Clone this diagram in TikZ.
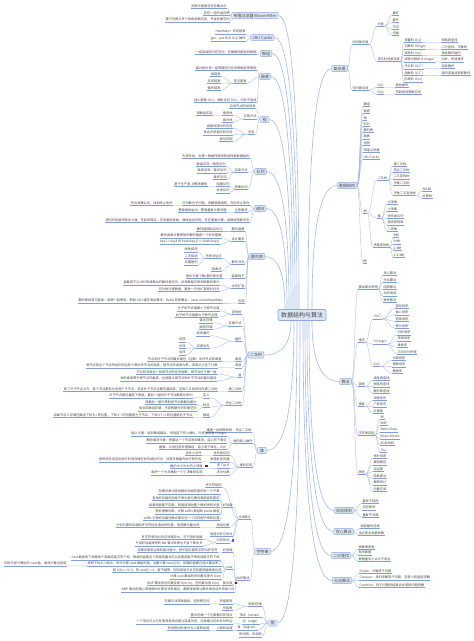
\documentclass[tikz,border=0pt]{standalone}
\usepackage{fontspec}
\setmainfont{Noto Sans CJK SC}
\usetikzlibrary{calc}
\definecolor{bxf}{HTML}{DCE6F4}
\definecolor{bxd}{HTML}{8EA9DB}
\definecolor{cnc}{HTML}{A7BCE0}
\definecolor{ulc}{HTML}{7F9ED6}
\definecolor{txc}{HTML}{474747}
\newcommand\lffont{\fontsize{3.2}{3.6}\selectfont}
\newcommand\bxfont{\fontsize{4}{4.6}\selectfont}
\newcommand\rtfont{\fontsize{6}{7}\selectfont}
\newcommand\mmconn[2]{\coordinate (cm) at ($(#1)!0.5!(#2)$);\draw[cn] (#1) .. controls (cm |- #1) and (cm |- #2) .. (#2);}
\newcommand\mmR[5]{\node[lf,anchor=west] (#2) at (#3,#4) {#5};\mmconn{#1}{#2.south west}}
\newcommand\mmL[5]{\node[lf,anchor=east] (#2) at (#3,#4) {#5};\mmconn{#1}{#2.south east}}
\newcommand\mmroot[2]{\coordinate (ck) at (#1 |- #2);\draw[rl] (#1) .. controls ($(#1)!0.667!(ck)$) and ($(#2)!0.667!(ck)$) .. (#2);}
\newcommand\mmU[3]{\coordinate (#1) at ([xshift=#2pt]root.north);\mmroot{#1}{#3}}
\newcommand\mmD[3]{\coordinate (#1) at ([xshift=#2pt]root.south);\mmroot{#1}{#3}}
\begin{document}
\begin{tikzpicture}[x=1pt,y=1pt,yscale=-1,
  lf/.style={font=\lffont, text=txc, inner xsep=0.3pt, inner ysep=0.5pt,
    append after command={(\tikzlastnode.south west) edge[draw=ulc,line width=0.35pt] (\tikzlastnode.south east)}},
  cn/.style={draw=cnc, line width=0.35pt},
  rl/.style={draw=cnc, line width=0.6pt},
  bx/.style={draw=bxd, fill=bxf, rounded corners=1pt, line width=0.4pt, font=\bxfont, text=txc, inner xsep=1.8pt, inner ysep=1.3pt, minimum width=9pt},
  rt/.style={draw=bxd, fill=bxf, rounded corners=2pt, line width=0.8pt, font=\rtfont, text=txc, inner xsep=3pt, inner ysep=2.8pt},
  icon/.style={minimum size=2.6pt, inner sep=0pt}]
\fill[white] (0,0) rectangle (474,641);
\useasboundingbox (0,0) rectangle (474,641);

% root and main boxes
\node[rt] (root) at (302,315) {数据结构与算法};
\node[bx] (b1) at (255,15.5) {布隆过滤器 BloomFilter};
\node[bx] (b2) at (262.5,37.5) {LRU Cache};
\node[bx] (b3) at (266,53.5) {数组};
\node[bx] (b4) at (265,76.5) {链表};
\node[bx] (b5) at (264.5,119.5) {栈};
\node[bx] (b6) at (260.5,171.5) {队列};
\node[bx] (b7) at (260,208.5) {递归};
\node[bx] (b8) at (257,256.5) {散列表};
\node[bx] (b9) at (256,355) {二叉树};
\node[bx] (b10) at (262,450.5) {堆};
\node[bx] (b11) at (262.5,551.5) {字符串};
\node[bx] (b12) at (272.5,623) {图};
\node[bx] (fz) at (339.5,68.5) {复杂度};
\node[bx] (sj) at (347,185.5) {数据结构};
\node[bx] (sf) at (345.5,381.5) {算法};
\node[bx] (dt) at (344,510.5) {动态规划};
\node[bx] (tx) at (343.5,531.5) {贪心算法};
\node[bx] (ef) at (341,555.5) {二分查找};
\node[bx] (fzh) at (342,580.5) {分治算法};

% root connectors
\mmU{r1}{-3}{b1.east}
\mmU{r2}{-5}{b2.east}
\mmU{r3}{-7}{b3.east}
\mmU{r4}{-9}{b4.east}
\mmU{r5}{-11}{b5.east}
\mmU{r6}{-13}{b6.east}
\mmU{r7}{-15}{b7.east}
\mmU{r8}{-17}{b8.east}
\mmD{r9}{-11}{b9.east}
\mmD{r10}{-8}{b10.east}
\mmD{r11}{-5}{b11.east}
\mmD{r12}{-2}{b12.east}
\mmU{r13}{6}{fz.west}
\mmU{r14}{10}{sj.west}
\mmD{r15}{10}{sf.west}
\mmD{r16}{7}{dt.west}
\mmD{r17}{5}{tx.west}
\mmD{r18}{3}{ef.west}
\mmD{r19}{1}{fzh.west}

% ---------- 复杂度 ----------
\mmR{fz.east}{t1}{352}{42}{时间复杂度}
\mmR{t1.south east}{t1a}{377}{24}{分类}
\mmR{t1a.south east}{t1a1}{392}{13}{最好}
\mmR{t1a.south east}{t1a2}{392}{20}{最坏}
\mmR{t1a.south east}{t1a3}{392}{27}{平均}
\mmR{t1a.south east}{t1a4}{392}{33}{均摊}
\mmR{t1.south east}{t1b}{377}{59}{常见时间复杂度}
\mmR{t1b.south east}{c1}{404}{40}{常量阶 O(1)}
\mmR{c1.south east}{e1}{441}{40}{哈希表查找}
\mmR{t1b.south east}{c2}{404}{47}{对数阶 O(logn)}
\mmR{c2.south east}{e2}{441}{47}{二分查找、平衡树}
\mmR{t1b.south east}{c3}{404}{53}{线性阶 O(n)}
\mmR{c3.south east}{e3}{441}{53}{单层循环遍历}
\mmR{t1b.south east}{c4}{404}{59.5}{线性对数阶 O(nlogn)}
\mmR{c4.south east}{e4}{441}{59.5}{归并、快速排序}
\mmR{t1b.south east}{c5}{404}{66}{平方阶 O(n\textsuperscript{2})}
\mmR{c5.south east}{e5}{441}{66}{双层循环}
\mmR{t1b.south east}{c6}{404}{73}{指数阶 O(2\textsuperscript{n})}
\mmR{c6.south east}{e6}{441}{73}{递归求斐波那契数列}
\mmR{t1b.south east}{c7}{404}{79.5}{阶乘阶 O(n!)}
\mmR{fz.east}{t2}{352}{88}{空间复杂度}
\mmR{t2.south east}{s1}{377}{85}{O(1)}
\mmR{s1.south east}{s1e}{395}{85}{原地操作}
\mmR{t2.south east}{s2}{377}{92}{O(n)}
\mmR{s2.south east}{s2e}{395}{92}{开辟线性辅助空间}

% ---------- 数据结构 ----------
\mmR{sj.east}{d1}{363}{104}{数组}
\mmR{sj.east}{d2}{363}{111}{链表}
\mmR{sj.east}{d3}{363}{118}{栈}
\mmR{sj.east}{d4}{363}{124}{队列}
\mmR{sj.east}{d5}{363}{130}{散列表}
\mmR{sj.east}{d6}{363}{136.5}{跳表}
\mmR{sj.east}{d7}{363}{143}{位图}
\mmR{sj.east}{d8}{363}{150}{布隆过滤器}
\mmR{sj.east}{d9}{363}{157}{LRU Cache}
\mmR{sj.east}{d10}{363}{211}{树}
\mmR{sj.east}{d11}{363}{261}{图}
\mmR{d10.south east}{tr1}{377}{178}{二叉树}
\mmR{tr1.south east}{tb1}{393}{164}{满二叉树}
\mmR{tr1.south east}{tb2}{393}{170}{完全二叉树}
\mmR{tr1.south east}{tb3}{393}{176.5}{二叉查找树}
\mmR{tr1.south east}{tb4}{393}{183}{平衡二叉树}
\mmR{tr1.south east}{tb5}{393}{193}{平衡二叉查找树}
\mmR{tb5.south east}{tb51}{422}{189}{AVL树}
\mmR{tb5.south east}{tb52}{422}{196}{红黑树}
\mmR{d10.south east}{tr2}{377}{216}{堆}
\mmR{tr2.south east}{th1}{387}{202}{大顶堆}
\mmR{tr2.south east}{th2}{387}{209}{小顶堆}
\mmR{tr2.south east}{th3}{387}{216}{优先级队列}
\mmR{tr2.south east}{th4}{387}{222.5}{斐波那契堆}
\mmR{tr2.south east}{th5}{387}{229}{二项堆}
\mmR{d10.south east}{tr3}{373}{245}{多路查找树}
\mmR{tr3.south east}{tm1}{393}{235}{B树}
\mmR{tr3.south east}{tm2}{393}{241.5}{B+树}
\mmR{tr3.south east}{tm3}{393}{248}{2-3树}
\mmR{tr3.south east}{tm4}{393}{255}{2-3-4树}

% ---------- 算法 ----------
\mmR{sf.east}{a1}{358}{287}{基本算法思想}
\mmR{a1.south east}{a11}{383}{273}{贪心算法}
\mmR{a1.south east}{a12}{383}{280}{分治算法}
\mmR{a1.south east}{a13}{383}{287}{回溯算法}
\mmR{a1.south east}{a14}{383}{293.5}{动态规划}
\mmR{a1.south east}{a15}{383}{300}{枚举算法}
\mmR{sf.east}{a2}{358}{340}{排序}
\mmR{a2.south east}{a21}{373}{316}{O(n\textsuperscript{2})}
\mmR{a21.south east}{a211}{395}{306}{冒泡排序}
\mmR{a21.south east}{a212}{395}{312.5}{插入排序}
\mmR{a21.south east}{a213}{395}{319}{选择排序}
\mmR{a21.south east}{a214}{395}{326}{希尔排序}
\mmR{a2.south east}{a22}{373}{342}{O(nlogn)}
\mmR{a22.south east}{a221}{397}{332.5}{归并排序}
\mmR{a22.south east}{a222}{397}{338.5}{快速排序}
\mmR{a22.south east}{a223}{397}{345}{堆排序}
\mmR{a22.south east}{a224}{397}{352}{三向切分快排}
\mmR{a2.south east}{a23}{373}{364}{O(n)}
\mmR{a23.south east}{a231}{392}{358}{计数排序}
\mmR{a23.south east}{a232}{392}{364.5}{基数排序}
\mmR{a23.south east}{a233}{392}{371}{桶排序}
\mmR{sf.east}{a3}{358}{384}{查找}
\mmR{a3.south east}{a31}{373}{378}{线性表查找}
\mmR{a3.south east}{a32}{373}{384.5}{树结构查找}
\mmR{a3.south east}{a33}{373}{391}{散列表查找}
\mmR{sf.east}{a4}{358}{404}{搜索}
\mmR{a4.south east}{a41}{373}{398}{深度优先}
\mmR{a4.south east}{a42}{373}{404.5}{广度优先}
\mmR{a4.south east}{a43}{373}{411}{A*搜索}
\mmR{sf.east}{a5}{358}{433}{字符串匹配}
\mmR{a5.south east}{a51}{380}{417}{BF}
\mmR{a5.south east}{a52}{380}{423.5}{KMP}
\mmR{a5.south east}{a53}{380}{430}{Rabin-Karp}
\mmR{a5.south east}{a54}{380}{436.5}{Boyer-Moore}
\mmR{a5.south east}{a55}{380}{443}{AC自动机}
\mmR{a5.south east}{a56}{380}{450}{Trie}
\mmR{sf.east}{a6}{358}{472}{其他}
\mmR{a6.south east}{a61}{373}{456}{拓扑排序}
\mmR{a6.south east}{a62}{373}{462.5}{最短路径}
\mmR{a6.south east}{a63}{373}{469}{位运算}
\mmR{a6.south east}{a64}{373}{476}{哈希算法}
\mmR{a6.south east}{a65}{373}{482.5}{概率统计}
\mmR{a6.south east}{a66}{373}{489}{向量空间}

% ---------- 动态规划 / 贪心 / 二分 / 分治 ----------
\mmR{dt.east}{p1}{362}{501}{最优子结构}
\mmR{dt.east}{p2}{362}{507.5}{无后效性}
\mmR{dt.east}{p3}{362}{515}{重复子问题}
\mmR{tx.east}{q1}{360}{526}{局部最优选择}
\mmR{tx.east}{q2}{358}{533}{未必是全局最优解}
\mmR{ef.east}{u1}{358}{547}{依赖顺序表}
\mmR{ef.east}{u2}{358}{552.5}{有序数据}
\mmR{ef.east}{u3}{358}{559}{数据量太小太大不适合}
\mmR{fzh.east}{v1}{359}{571}{Divide：分解成子问题}
\mmR{fzh.east}{v2}{359}{578}{Conquer：递归求解各子问题，足够小则直接求解}
\mmR{fzh.east}{v3}{359}{585}{Combine：将子问题的结果合并成原问题的解}

% ---------- 布隆过滤器 ----------
\mmL{b1.west}{l1a}{227}{6}{判断元素是否存在集合中}
\mmL{b1.west}{l1b}{230}{13}{存在一定的误判率}
\mmL{b1.west}{l1c}{230}{19.5}{基于位图与多个哈希函数实现，节省存储空间}
% LRU
\mmL{b2.west}{l2a}{246}{32}{HashMap + 双向链表}
\mmL{b2.west}{l2b}{246}{38.5}{get、put 均为 O(1) 操作}
% 数组
\mmL{b3.west}{l3a}{257}{52}{一组连续的内存空间，存储相同类型的数据}
% 链表
\mmL{b4.west}{l4a}{257}{68}{通过指针将一组零散的内存块串联起来使用}
\mmL{b4.west}{l4b}{247}{81}{常见链表}
\mmL{l4b.south west}{l4b1}{221}{74}{单链表}
\mmL{l4b.south west}{l4b2}{221}{81}{双向链表}
\mmL{l4b.south west}{l4b3}{221}{88}{循环链表}
\mmL{b4.west}{l4c}{257}{100}{插入删除 O(1)，随机访问 O(n)，内存不连续}
% 栈
\mmL{b5.west}{l5a}{256}{106}{后进先出的线性表}
\mmL{b5.west}{l5b}{257}{116.5}{实现方式}
\mmL{l5b.south west}{l5b1}{233}{113}{顺序栈}
\mmL{l5b1.south west}{l5b1a}{213}{113}{用数组实现}
\mmL{l5b.south west}{l5b2}{233}{120}{链式栈}
\mmL{b5.west}{l5c}{255}{132}{应用}
\mmL{l5c.south west}{l5c1}{233}{126}{函数调用中的应用}
\mmL{l5c.south west}{l5c2}{233}{132.5}{表达式求值中的应用}
\mmL{l5c.south west}{l5c3}{233}{139}{括号匹配}
% 队列
\mmL{b6.west}{l6a}{250}{156}{先进先出，也是一种操作受限的线性表数据结构}
\mmL{b6.west}{l6b}{248}{170}{实现方式}
\mmL{l6b.south west}{l6b1}{226}{164}{数组实现：顺序队列}
\mmL{l6b.south west}{l6b2}{227}{170.5}{链表实现：链式队列}
\mmL{l6b.south west}{l6b3}{227}{177}{循环队列}
\mmL{b6.west}{l6c}{248}{187}{特殊队列}
\mmL{l6c.south west}{l6c1}{230}{184}{阻塞队列}
\mmL{l6c1.south west}{l6c1a}{208}{184}{基于生产者-消费者模型}
\mmL{l6c.south west}{l6c2}{230}{190.5}{并发队列}
% 递归
\mmL{b7.west}{l7a}{250}{203}{可分解为子问题，求解思路相同，存在终止条件}
\mmL{l7a.south west}{l7a1}{173}{203}{写出递推公式，找到终止条件}
\mmL{b7.west}{l7b}{248}{210}{注意事项}
\mmL{l7b.south west}{l7b1}{227}{210}{警惕堆栈溢出，警惕重复计算问题}
\mmL{b7.west}{l7c}{250}{220}{递归代码虽然表达力强、写起来简洁，空间复杂度高，堆栈溢出风险，存在重复计算，函数调用耗时多}
% 散列表
\mmL{b8.west}{l8a}{245}{229}{散列函数}
\mmL{l8a.south west}{l8a1}{223}{229}{散列值随机且均匀}
\mmL{b8.west}{l8b}{245}{239}{设计要求}
\mmL{l8b.south west}{l8b1}{222}{235.5}{散列函数计算得到的散列值是一个非负整数}
\mmL{l8b.south west}{l8b2}{220}{242}{key1 = key2 时 hash(key1) == hash(key2)}
\mmL{b8.west}{l8c}{245}{262}{散列冲突}
\mmL{l8c.south west}{l8c1}{222}{256}{开放寻址法}
\mmL{l8c1.south west}{l8c11}{198}{249.5}{线性探测}
\mmL{l8c1.south west}{l8c12}{198}{256}{二次探测}
\mmL{l8c1.south west}{l8c13}{198}{262.5}{双重散列}
\mmL{l8c.south west}{l8c2}{222}{269}{链表法}
\mmL{b8.west}{l8d}{245}{276}{装载因子}
\mmL{l8d.south west}{l8d1}{223}{276}{表中元素个数/散列表长度}
\mmL{b8.west}{l8e}{245}{286}{动态扩容}
\mmL{l8e.south west}{l8e1}{220}{282.5}{装载因子过大时申请更大的散列表空间，并将数据迁移到新散列表中}
\mmL{l8e.south west}{l8e2}{220}{289}{可分批迁移数据，避免一次性扩容耗时过多}
\mmL{b8.west}{l8f}{245}{301}{应用}
\mmL{l8f.south west}{l8f1}{223}{301}{散列表经常与链表、跳表一起使用，例如 LRU 缓存淘汰算法、Redis 有序集合、Java LinkedHashMap}
% 二叉树
\mmL{b9.west}{l9a}{242}{312}{查找树}
\mmL{l9a.south west}{l9a1}{220}{308.5}{左子树节点值都小于根节点值}
\mmL{l9a.south west}{l9a2}{218}{315}{右子树节点值都大于根节点值}
\mmL{b9.west}{l9b}{242}{323.5}{存储方式}
\mmL{l9b.south west}{l9b1}{213}{320.5}{链式存储}
\mmL{l9b.south west}{l9b2}{213}{327}{顺序存储}
\mmL{b9.west}{l9c}{242}{339}{遍历}
\mmL{l9c.south west}{l9c1}{210}{333.5}{层序遍历}
\mmL{l9c.south west}{l9c2}{210}{346}{深度优先}
\mmL{l9c2.south west}{l9c21}{186}{339.5}{前序}
\mmL{l9c2.south west}{l9c22}{186}{346}{中序}
\mmL{l9c2.south west}{l9c23}{186}{352.5}{后序}
\mmL{b9.west}{l9d}{242}{359}{高度}
\mmL{l9d.south west}{l9d1}{222}{359}{节点到叶子节点的最长路径（边数）叫作节点的高度}
\mmL{b9.west}{l9e}{242}{365.5}{深度}
\mmL{l9e.south west}{l9e1}{218}{365.5}{根节点到这个节点所经历的边的个数叫作节点的深度，根节点的深度为零，深度从上往下计数}
\mmL{b9.west}{l9f}{242}{375}{层}
\mmL{l9f.south west}{l9f1}{217}{372}{节点的深度加一就是节点所在的层数，根节点位于第一层}
\mmL{l9f.south west}{l9f2}{217}{378.5}{树的高度等于根节点的高度，也就是从根节点到叶子节点的最长路径}
\mmL{b9.west}{l9g}{242}{389}{满二叉树}
\mmL{l9g.south west}{l9g1}{218}{389}{除了叶子节点之外，每个节点都有左右两个子节点，并且叶子节点全都在最底层，这种二叉树就叫作满二叉树}
\mmL{b9.west}{l9h}{242}{403}{完全二叉树}
\mmL{l9h.south west}{l9h1}{210}{395.5}{定义}
\mmL{l9h1.south west}{l9h11}{193}{395.5}{叶子节点都在最底下两层，最后一层的叶子节点都靠左排列}
\mmL{l9h.south west}{l9h2}{210}{405}{特点}
\mmL{l9h2.south west}{l9h21}{197}{402}{除最后一层外其他层节点数都达最大}
\mmL{l9h2.south west}{l9h22}{197}{408.5}{适合用数组存储，不浪费额外的存储空间}
\mmL{l9h.south west}{l9h3}{210}{415}{数组}
\mmL{l9h3.south west}{l9h31}{193}{415}{如果节点 X 存储在数组下标为 i 的位置，下标 2*i 的位置是左子节点，下标 2*i+1 的位置是右子节点}
% 堆
\mmL{b10.west}{l10a}{252}{430}{堆是一种特殊的树：完全二叉树}
\mmL{b10.west}{l10b}{253}{441}{堆的核心操作}
\mmL{l10b.south west}{l10b1}{227}{434}{插入元素：放到数组最后，然后自下而上堆化，时间复杂度 O(logn)}
\mmL{l10b.south west}{l10b2}{227}{440.5}{删除堆顶元素：把最后一个节点放到堆顶，自上而下堆化}
\mmL{l10b.south west}{l10b3}{227}{447}{建堆：从后往前处理数组，自上而下堆化，O(n)}
\mmL{b10.west}{l10c}{253}{465}{堆的应用}
\mmL{l10c.south west}{l10c1}{230}{453}{优先级队列}
\mmL{l10c1.south west}{l10c11}{202}{453}{合并小文件}
\mmL{l10c.south west}{l10c2}{230}{459.5}{高性能定时器}
\mmL{l10c2.south west}{l10c21}{202}{459.5}{按照任务设定的执行时间存储在优先级队列中，队首存储最先执行的任务}
\mmL{l10c.south west}{l10c3}{230}{466}{求 Top K}
\mmL{l10c3.south west}{l10c31}{203}{466}{维护大小为 K 的小顶堆}
\mmL{l10c.south west}{l10c4}{230}{472.5}{求中位数}
\mmL{l10c4.south west}{l10c41}{203}{472.5}{维护一个大顶堆和一个小顶堆来实现}
% 字符串
\mmL{b11.west}{k1}{251}{517}{BM算法}
\mmL{k1.south west}{k1a}{222}{485}{坏字符规则}
\mmL{k1.south west}{k1b}{233}{505}{好后缀}
\mmL{k1b.south west}{k1b1}{220}{491.5}{在模式串中查找跟好后缀匹配的另一个子串}
\mmL{k1b.south west}{k1b2}{220}{498}{查找好后缀的后缀子串中能与模式串前缀匹配的}
\mmL{k1b.south west}{k1b3}{220}{505}{如果两者都不匹配，则直接滑动整个模式串的长度}
\mmL{k1b.south west}{k1b4}{220}{511.5}{预处理模式串，计算 suffix 数组和 prefix 数组}
\mmL{k1b.south west}{k1b5}{220}{518}{suffix 记录好后缀在模式串中另一个可匹配子串的位置}
\mmL{k1.south west}{k1c}{230}{525}{滑动位数}
\mmL{k1c.south west}{k1c1}{200}{525}{分别计算好后缀和坏字符往后滑动的位数，取两数中最大的}
\mmL{k1.south west}{k1d}{233}{534}{性能分析与优化}
\mmL{k1.south west}{k1e}{230}{540.5}{内存优化}
\mmL{k1e.south west}{k1e1}{203}{537}{坏字符规则对内存消耗较大，可只用好后缀}
\mmL{k1e.south west}{k1e2}{203}{543.5}{只用好后缀规则的 BM 算法效率也不会下降太多}
\mmL{b11.west}{k2}{250}{578}{KMP算法}
\mmL{k2.south west}{k2a}{233}{550}{好前缀}
\mmL{k2a.south west}{k2a1}{218}{550}{在模式串和主串匹配过程中，把不能匹配的字符叫坏字符}
\mmL{k2.south west}{k2b}{233}{567}{next}
\mmL{k2b.south west}{k2b1}{220}{557.5}{next 数组的下标是每个前缀结尾字符下标，数组的值是这个前缀的最长可以匹配前缀子串的结尾字符下标}
\mmL{k2b.south west}{k2b2}{222}{563.5}{按照下标从小到大，依次计算 next 数组的值，当要计算 next[i] 时，前面的值都已经计算出来了}
\mmL{k2b2.south west}{k2b21}{67}{563.5}{利用已经计算出的 next 值，高效计算当前值}
\mmL{k2b.south west}{k2b3}{222}{570}{若 b[k] == b[i]，则 next[i] = k；若不相等，则回退到次长可匹配前缀继续比较}
\mmL{k2b.south west}{k2b4}{222}{576.5}{计算 next 数组的时间复杂度为 O(m)}
\mmL{k2.south west}{k2c}{233}{583}{复杂度}
\mmL{k2c.south west}{k2c1}{220}{583}{KMP 算法的时间复杂度 O(m+n)，空间复杂度 O(m)}
\mmL{k2.south west}{k2d}{235}{589.5}{KMP 算法的核心思想跟 BM 算法非常相近，都是找规律让模式串往后多滑动几位}
% 图
\mmL{b12.west}{g1}{262}{604}{图的存储}
\mmL{g1.south west}{g1a}{233}{601.5}{邻接矩阵}
\mmL{g1a.south west}{g1a1}{210}{601.5}{存储方法简单直接，但浪费空间}
\mmL{g1.south west}{g1b}{233}{608}{邻接表}
\mmL{b12.west}{g2}{262}{615}{顶点（vertex）}
\mmL{g2.south west}{g2a}{233}{615}{图中的每一个元素都叫作顶点}
\mmL{b12.west}{g3}{260}{621.5}{边（edge）}
\mmL{g3.south west}{g3a}{233}{621.5}{一个顶点可以与任意其他顶点建立连接关系，这种建立的关系叫作边}
\mmL{b12.west}{g4}{258}{628}{度（degree）}
\mmL{g4.south west}{g4a}{233}{628}{入度和出度}
\mmL{g4a.south west}{g4a1}{210}{628}{有向图中的度分为入度和出度}
\mmL{b12.west}{g5}{262}{634.5}{有向图、无向图}

% small marker icons
\node[icon, fill=red!75!black] (ic1) at (206.5,466) {};
\node[icon, fill=blue!65] (ic2) at (233,540.5) {};
\node[icon, fill=red!75!black] (ic3) at (236,583) {};
\end{tikzpicture}
\end{document}
